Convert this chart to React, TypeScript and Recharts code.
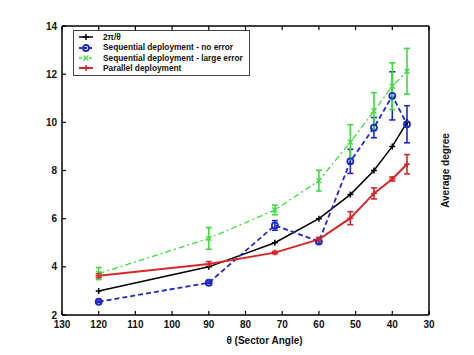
import { ComposedChart, Line, XAxis, YAxis, ErrorBar, Legend } from 'recharts'

// sector angles (360/n for n = 3..10)
const ANGLES = [120, 90, 72, 60, 51.43, 45, 40, 36]

const TWO_PI_OVER_THETA = [3, 4, 5, 6, 7, 8, 9, 10]
const SEQ_NO_ERROR      = [2.55, 3.34, 5.72, 5.05, 8.38, 9.78, 11.1, 9.92]
const SEQ_NO_ERROR_ERR  = [0.03, 0.03, 0.2, 0.08, 0.5, 0.42, 1.0, 0.77]
const SEQ_LARGE_ERROR   = [3.72, 5.18, 6.36, 7.58, 9.18, 10.47, 11.5, 12.12]
const SEQ_LARGE_ERR     = [0.25, 0.45, 0.2, 0.43, 0.72, 0.76, 0.97, 0.95]
const PARALLEL          = [3.63, 4.12, 4.59, 5.14, 6.02, 7.05, 7.65, 8.26]
const PARALLEL_ERR      = [0.08, 0.1, 0.05, 0.08, 0.27, 0.23, 0.08, 0.4]

const X_TICKS = [130, 120, 110, 100, 90, 80, 70, 60, 50, 40, 30]
const Y_TICKS = [2, 4, 6, 8, 10, 12, 14]

const FONT = '"Liberation Sans", Arial, sans-serif'

type Marker = 'plus' | 'circle' | 'cross'

const SERIES: { key: string; name: string; color: string; dash?: string; width: number; marker: Marker; err?: string }[] = [
  { key: 'twoPi',    name: '2π/θ',                                color: '#000000', width: 1.5, marker: 'plus' },
  { key: 'seqNo',    name: 'Sequential deployment - no error',    color: '#1c28c8', width: 1.8, marker: 'circle', dash: '5 3', err: 'seqNoErr' },
  { key: 'seqLarge', name: 'Sequential deployment - large error', color: '#3ddc3d', width: 1.3, marker: 'cross', dash: '6 3 2 3', err: 'seqLargeErr' },
  { key: 'parallel', name: 'Parallel deployment',                 color: '#d62828', width: 2,   marker: 'plus', err: 'parallelErr' },
]

const data = ANGLES.map((a, i) => ({
  angle:       a,
  twoPi:       TWO_PI_OVER_THETA[i],
  seqNo:       SEQ_NO_ERROR[i],
  seqNoErr:    SEQ_NO_ERROR_ERR[i],
  seqLarge:    SEQ_LARGE_ERROR[i],
  seqLargeErr: SEQ_LARGE_ERR[i],
  parallel:    PARALLEL[i],
  parallelErr: PARALLEL_ERR[i],
}))

function markerShape(m: Marker, cx: number, cy: number, color: string, key?: string | number) {
  if (m === 'circle') return <circle key={key} cx={cx} cy={cy} r={3} fill="none" stroke={color} strokeWidth={1.8} />
  if (m === 'cross')
    return <path key={key} d={`M${cx - 2.5},${cy - 2.5}L${cx + 2.5},${cy + 2.5}M${cx - 2.5},${cy + 2.5}L${cx + 2.5},${cy - 2.5}`} stroke={color} strokeWidth={1.3} />
  return <path key={key} d={`M${cx - 3},${cy}H${cx + 3}M${cx},${cy - 3}V${cy + 3}`} stroke={color} strokeWidth={1.5} />
}

const tickText = { fontFamily: FONT, fontSize: 10, fontWeight: 'bold' as const, fill: '#111' }

function BottomTick({ x, y, payload }: any) {
  return (
    <g>
      <line x1={x} x2={x} y1={y} y2={y - 4} stroke="#000" strokeWidth={1.2} />
      <text x={x} y={y + 13} textAnchor="middle" {...tickText}>{payload.value}</text>
    </g>
  )
}

function TopTick({ x, y }: any) {
  return <line x1={x} x2={x} y1={y} y2={y + 4} stroke="#000" strokeWidth={1.2} />
}

function LeftTick({ x, y, payload }: any) {
  return (
    <g>
      <line x1={x} x2={x + 4} y1={y} y2={y} stroke="#000" strokeWidth={1.2} />
      <text x={x - 5} y={y + 3.5} textAnchor="end" {...tickText}>{payload.value}</text>
    </g>
  )
}

function RightTick({ x, y }: any) {
  return <line x1={x} x2={x - 4} y1={y} y2={y} stroke="#000" strokeWidth={1.2} />
}

function LegendBox() {
  return (
    <div style={{ border: '1px solid #444', background: '#fff', padding: '1px 6px 1px 4px', fontFamily: FONT, fontSize: 8.3, fontWeight: 'bold', color: '#111', lineHeight: '10.4px' }}>
      {SERIES.map(s => (
        <div key={s.key} style={{ display: 'flex', alignItems: 'center', whiteSpace: 'nowrap' }}>
          <svg width={20} height={10} style={{ marginRight: 5 }}>
            <line x1={1} x2={15} y1={5} y2={5} stroke={s.color} strokeWidth={s.width} strokeDasharray={s.dash ? '3 2' : undefined} />
            {markerShape(s.marker, 8, 5, s.color)}
          </svg>
          <span>{s.name}</span>
        </div>
      ))}
    </div>
  )
}

export default function App() {
  return (
    <div style={{ position: 'absolute', left: 0, top: 0, width: 474, height: 355, background: '#fff' }}>
      <ComposedChart width={474} height={355} data={data} margin={{ top: 25, right: 0, bottom: 0, left: 0 }}>
        <XAxis
          dataKey="angle"
          type="number"
          domain={[30, 130]}
          reversed
          ticks={X_TICKS}
          interval={0}
          height={40}
          tickSize={0}
          tickMargin={0}
          tickLine={false}
          tick={<BottomTick />}
          axisLine={{ stroke: '#000', strokeWidth: 1.5 }}
          label={{
            content: ({ viewBox }: any) => (
              <text x={viewBox.x + viewBox.width / 2 + 19} y={viewBox.y + 29} textAnchor="middle" {...tickText}>θ (Sector Angle)</text>
            ),
          }}
        />
        <XAxis
          xAxisId="top"
          orientation="top"
          dataKey="angle"
          type="number"
          domain={[30, 130]}
          reversed
          ticks={X_TICKS}
          interval={0}
          height={1}
          tickSize={0}
          tickMargin={0}
          tickLine={false}
          tick={<TopTick />}
          axisLine={{ stroke: '#000', strokeWidth: 1.5 }}
        />
        <YAxis
          type="number"
          domain={[2, 14]}
          ticks={Y_TICKS}
          interval={0}
          width={62}
          tickSize={0}
          tickMargin={0}
          tickLine={false}
          tick={<LeftTick />}
          axisLine={{ stroke: '#000', strokeWidth: 1.5 }}
        />
        <YAxis
          yAxisId="right"
          orientation="right"
          type="number"
          domain={[2, 14]}
          ticks={Y_TICKS}
          interval={0}
          width={45}
          tickSize={0}
          tickMargin={0}
          tickLine={false}
          tick={<RightTick />}
          axisLine={{ stroke: '#000', strokeWidth: 1.5 }}
          label={{
            content: ({ viewBox }: any) => {
              const cx = viewBox.x + 16
              const cy = viewBox.y + viewBox.height / 2
              return (
                <text x={cx} y={cy} textAnchor="middle" dominantBaseline="central" transform={`rotate(-90 ${cx} ${cy})`} {...tickText}>
                  Average degree
                </text>
              )
            },
          }}
        />
        <Legend
          layout="vertical"
          align="center"
          verticalAlign="middle"
          wrapperStyle={{ top: 30, left: 73, width: 'auto' }}
          content={() => <LegendBox />}
        />
        {SERIES.map(s => (
          <Line
            key={s.key}
            dataKey={s.key}
            name={s.name}
            type="linear"
            stroke={s.color}
            strokeWidth={s.width}
            strokeDasharray={s.dash}
            dot={(p: any) => markerShape(s.marker, p.cx, p.cy, s.color, p.index)}
            activeDot={false}
            isAnimationActive={false}
          >
            {s.err && <ErrorBar dataKey={s.err} direction="y" width={3} stroke={s.color} strokeWidth={1.6} />}
          </Line>
        ))}
      </ComposedChart>
    </div>
  )
}
